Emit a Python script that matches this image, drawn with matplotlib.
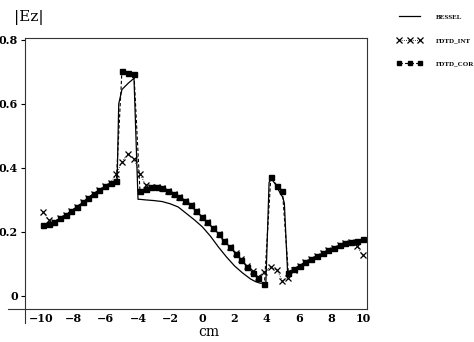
import matplotlib
matplotlib.use('Agg')
import matplotlib.pyplot as plt
import numpy as np

# |Ez| along the cut, exact Bessel solution against two FDTD variants
bessel_x = [-9.9, -9.5, -9.0, -8.5, -8.0, -7.5, -7.0, -6.5, -6.0, -5.6, -5.3,
            -5.2, -5.0, -4.6, -4.25, -4.0, -3.9, -3.5, -3.0, -2.5, -2.0, -1.5,
            -1.0, -0.5, 0.0, 0.5, 1.0, 1.5, 2.0, 2.5, 3.0, 3.3, 3.6, 3.95,
            4.15, 4.3, 4.6, 4.8, 5.0, 5.1, 5.3, 5.6, 6.0, 6.5, 7.0, 7.5,
            8.0, 8.5, 9.0, 9.5, 9.95]
bessel_y = [0.211, 0.222, 0.238, 0.252, 0.270, 0.290, 0.310, 0.328, 0.343, 0.352, 0.356,
            0.600, 0.645, 0.665, 0.680, 0.302, 0.302, 0.300, 0.298, 0.295, 0.288, 0.278,
            0.258, 0.238, 0.216, 0.187, 0.153, 0.122, 0.094, 0.072, 0.053, 0.045, 0.040, 0.040,
            0.355, 0.366, 0.345, 0.325, 0.308, 0.290, 0.075, 0.082, 0.094, 0.108, 0.121, 0.133,
            0.145, 0.155, 0.163, 0.169, 0.173]

cor_x = [-9.9, -9.55, -9.2, -8.85, -8.5, -8.15, -7.8, -7.45, -7.1, -6.75, -6.4, -6.05,
         -5.7, -5.35, -5.0, -4.62, -4.25,
         -3.88, -3.53, -3.18, -2.83, -2.48, -2.13, -1.78, -1.43, -1.08, -0.73, -0.38,
         -0.03, 0.32, 0.67, 1.02, 1.37, 1.72, 2.07, 2.42, 2.77, 3.12, 3.47, 3.86,
         4.26, 4.63, 4.98,
         5.35, 5.7, 6.06, 6.41, 6.77, 7.12, 7.48, 7.83, 8.19, 8.54, 8.9, 9.25, 9.61, 9.97]
cor_y = [0.222, 0.225, 0.232, 0.243, 0.254, 0.266, 0.279, 0.293, 0.307, 0.320, 0.332, 0.343,
         0.352, 0.358, 0.704, 0.697, 0.694,
         0.329, 0.334, 0.340, 0.341, 0.336, 0.329, 0.320, 0.310, 0.298, 0.283, 0.265,
         0.248, 0.230, 0.211, 0.193, 0.172, 0.153, 0.132, 0.112, 0.092, 0.073, 0.055, 0.037,
         0.373, 0.345, 0.329,
         0.071, 0.083, 0.095, 0.106, 0.116, 0.126, 0.135, 0.143, 0.151, 0.158, 0.164, 0.169, 0.173, 0.177]

int_x = cor_x
int_y = [0.263, 0.237, 0.232, 0.243, 0.254, 0.266, 0.279, 0.293, 0.307, 0.320, 0.332, 0.343,
         0.354, 0.381, 0.420, 0.444, 0.428,
         0.382, 0.348, 0.342, 0.341, 0.336, 0.329, 0.320, 0.310, 0.298, 0.283, 0.265,
         0.248, 0.230, 0.211, 0.193, 0.172, 0.153, 0.133, 0.114, 0.095, 0.078, 0.060, 0.076,
         0.092, 0.081, 0.047,
         0.057, 0.081, 0.095, 0.106, 0.116, 0.126, 0.135, 0.143, 0.151, 0.158, 0.164, 0.168, 0.156, 0.128]

x_ticks = [-10, -8, -6, -4, -2, 0, 2, 4, 6, 8, 10]
y_ticks = [0, 0.2, 0.4, 0.6, 0.8]

plt.rcParams['font.family'] = 'DejaVu Serif'

fig = plt.figure(figsize=(4.74, 3.42), dpi=100)
ax = fig.add_axes([0.0527, 0.0956, 0.7209, 0.7934])

ax.plot(bessel_x, bessel_y, '-', color='black', lw=0.9, label='BESSEL')
ax.plot(int_x, int_y, ':', color='black', lw=0.6, marker='x', ms=5,
        mew=0.9, label='FDTD_INT')
ax.plot(cor_x, cor_y, '--', color='black', lw=0.8, dashes=(3, 2), marker='s',
        ms=3.6, mfc='black', mec='black', label='FDTD_COR')

ax.set_xlim(-11.03, 10.22)
ax.set_ylim(-0.0416, 0.806)

# crossing axis lines that run past the frame corner
ax.spines['bottom'].set_bounds(-12.1, 10.22)
ax.spines['left'].set_bounds(-0.083, 0.806)
for s in ax.spines.values():
    s.set_linewidth(0.8)
    s.set_color('#333333')

ax.set_xticks(x_ticks)
ax.set_xticklabels([str(t).replace('-', '\u2212') for t in x_ticks])
ax.set_yticks(y_ticks)
ax.set_yticklabels(['0', '0.2', '0.4', '0.6', '0.8'])
ax.tick_params(axis='x', length=0, pad=2.5, labelsize=8)
ax.tick_params(axis='y', length=3, width=0.8, pad=2, labelsize=8)
for lab in ax.get_xticklabels() + ax.get_yticklabels():
    lab.set_fontweight('bold')

fig.text(0.03, 0.95, '|Ez|', fontsize=11, ha='left', va='center')
fig.text(0.44, 0.008, 'cm', fontsize=10, ha='center', va='bottom')

fig.legend(loc='upper left', bbox_to_anchor=(0.825, 0.978), frameon=False,
           prop={'family': 'Liberation Serif', 'weight': 'bold', 'size': 5},
           handlelength=3.6, handletextpad=1.9, labelspacing=2.55, numpoints=3,
           markerscale=0.8)

fig.savefig('out.png', dpi=100)
